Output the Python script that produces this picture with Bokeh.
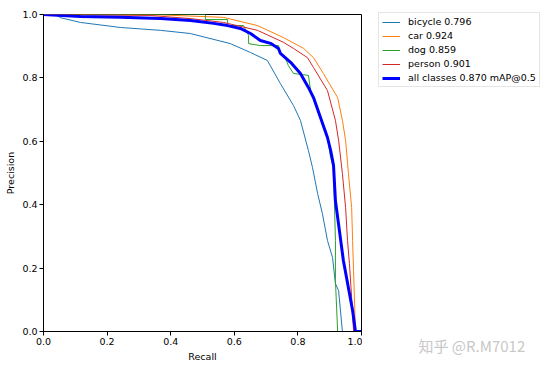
from bokeh.plotting import figure
from bokeh.models import Range1d, Legend, LegendItem, Label, FixedTicker
from bokeh.layouts import row
from bokeh.embed import file_html
from bokeh.resources import INLINE

# ---- data ----
bicycle_r = [0.0, 0.038, 0.053, 0.116, 0.242, 0.368, 0.462, 0.588, 0.651, 0.704, 0.745, 0.786, 0.808,
             0.833, 0.846, 0.862, 0.877, 0.893, 0.909, 0.918, 0.928, 0.94]
bicycle_p = [1.0, 1.0, 0.99, 0.975, 0.959, 0.95, 0.94, 0.908, 0.88, 0.855, 0.782, 0.713, 0.666,
             0.571, 0.517, 0.435, 0.372, 0.287, 0.233, 0.151, 0.129, 0.0]

car_r = [0.0, 0.336, 0.566, 0.673, 0.755, 0.818, 0.849, 0.88, 0.925, 0.94, 0.95, 0.959, 0.969, 0.972,
         0.975, 0.981]
car_p = [1.0, 1.0, 0.991, 0.965, 0.927, 0.893, 0.864, 0.814, 0.738, 0.666, 0.603, 0.498, 0.391, 0.287,
         0.192, 0.0]

dog_r = [0.0, 0.509, 0.509, 0.579, 0.579, 0.629, 0.645, 0.645, 0.682, 0.739, 0.745, 0.761, 0.770,
         0.786, 0.833, 0.840, 0.871, 0.893, 0.903, 0.912, 0.918, 0.918, 0.925]
dog_p = [1.0, 1.0, 0.984, 0.984, 0.965, 0.965, 0.934, 0.908, 0.902, 0.902, 0.877, 0.861, 0.839,
         0.814, 0.808, 0.760, 0.675, 0.612, 0.549, 0.517, 0.287, 0.161, 0.0]

person_r = [0.0, 0.336, 0.462, 0.566, 0.673, 0.755, 0.786, 0.83, 0.849, 0.893, 0.918, 0.928, 0.94,
            0.95, 0.956, 0.962, 0.969, 0.975]
person_p = [1.0, 0.997, 0.987, 0.975, 0.95, 0.912, 0.893, 0.864, 0.833, 0.76, 0.666, 0.603, 0.498,
            0.391, 0.287, 0.215, 0.107, 0.0]

all_r = [0.0, 0.116, 0.242, 0.368, 0.462, 0.535, 0.579, 0.619, 0.651, 0.682, 0.714, 0.739, 0.745,
         0.777, 0.808, 0.833, 0.849, 0.871, 0.893, 0.903, 0.912, 0.918, 0.943, 0.972, 0.981, 1.0]
all_p = [1.0, 0.994, 0.991, 0.987, 0.981, 0.972, 0.965, 0.956, 0.940, 0.918, 0.909, 0.893, 0.877,
         0.849, 0.814, 0.770, 0.738, 0.675, 0.612, 0.571, 0.524, 0.413, 0.224, 0.066, 0.0, 0.0]

labels = ["bicycle 0.796", "car 0.924", "dog 0.859", "person 0.901", "all classes 0.870 mAP@0.5"]
colors = ["#1f77b4", "#ff7f0e", "#2ca02c", "#d62728", "blue"]
widths = [1, 1, 1, 1, 3]
ticks = [0.0, 0.2, 0.4, 0.6, 0.8, 1.0]

FONT = "DejaVu Sans"

p = figure(width=362, height=369, output_backend="svg", toolbar_location=None,
           x_range=Range1d(0, 1), y_range=Range1d(0, 1),
           min_border_left=43, min_border_right=1, min_border_top=14, min_border_bottom=38)
p.frame_align = False
p.background_fill_color = "white"
p.border_fill_color = "white"
p.outline_line_color = "black"
p.outline_line_width = 1
p.xgrid.visible = False
p.ygrid.visible = False

for ax in (p.xaxis[0], p.yaxis[0]):
    ax.ticker = FixedTicker(ticks=ticks)
    ax.minor_tick_line_color = None
    ax.major_tick_in = 0
    ax.major_tick_out = 4
    ax.major_tick_line_color = "black"
    ax.axis_line_color = "black"
    ax.major_label_text_font = FONT
    ax.major_label_text_font_size = "9.5px"
    ax.major_label_text_color = "black"
    ax.axis_label_text_font = FONT
    ax.axis_label_text_font_size = "9.5px"
    ax.axis_label_text_font_style = "normal"
    ax.axis_label_text_color = "black"
    ax.major_label_standoff = 2

p.xaxis.axis_label = "Recall"
p.yaxis.axis_label = "Precision"
p.xaxis.axis_label_standoff = 3
p.yaxis.axis_label_standoff = 3
p.xaxis.major_label_overrides = {t: f"{t:.1f}" for t in ticks}
p.yaxis.major_label_overrides = {t: f"{t:.1f}" for t in ticks}

series = [(bicycle_r, bicycle_p), (car_r, car_p), (dog_r, dog_p), (person_r, person_p), (all_r, all_p)]
for (xs, ys), c, w in zip(series, colors, widths):
    p.line(xs, ys, line_color=c, line_width=w)

# side panel holding the legend and the watermark (its data range is kept out of view,
# so only the legend keys of these renderers are seen)
p2 = figure(width=191, height=369, output_backend="svg", toolbar_location=None,
            x_range=Range1d(5, 6), y_range=Range1d(5, 6),
            min_border_left=0, min_border_right=0, min_border_top=0, min_border_bottom=0)
p2.frame_align = False
p2.axis.visible = False
p2.grid.visible = False
p2.outline_line_color = None
p2.background_fill_color = "white"
p2.border_fill_color = "white"

key_renderers = [p2.line(xs, ys, line_color=c, line_width=w)
                 for (xs, ys), c, w in zip(series, colors, widths)]

legend = Legend(items=[LegendItem(label=l, renderers=[r]) for l, r in zip(labels, key_renderers)],
                location=(16, 282), orientation="vertical")
legend.label_text_font = FONT
legend.label_text_font_size = "9.5px"
legend.label_text_color = "black"
legend.glyph_width = 18
legend.glyph_height = 10
legend.label_height = 10
legend.label_standoff = 8
legend.spacing = 3
legend.padding = 3
legend.margin = 0
legend.border_line_color = "#cccccc"
legend.border_line_width = 1
legend.background_fill_color = "white"
legend.background_fill_alpha = 0.8
p2.add_layout(legend, "center")

wm = Label(x=56, y=24, x_units="screen", y_units="screen", text="知乎 @R.M7012",
           text_font="Noto Sans CJK SC", text_font_size="15px", text_color="#c8c8c8",
           text_baseline="middle", text_align="left")
p2.add_layout(wm)

layout = row(p, p2, spacing=0)
open("out.html", "w").write(file_html(layout, INLINE))
